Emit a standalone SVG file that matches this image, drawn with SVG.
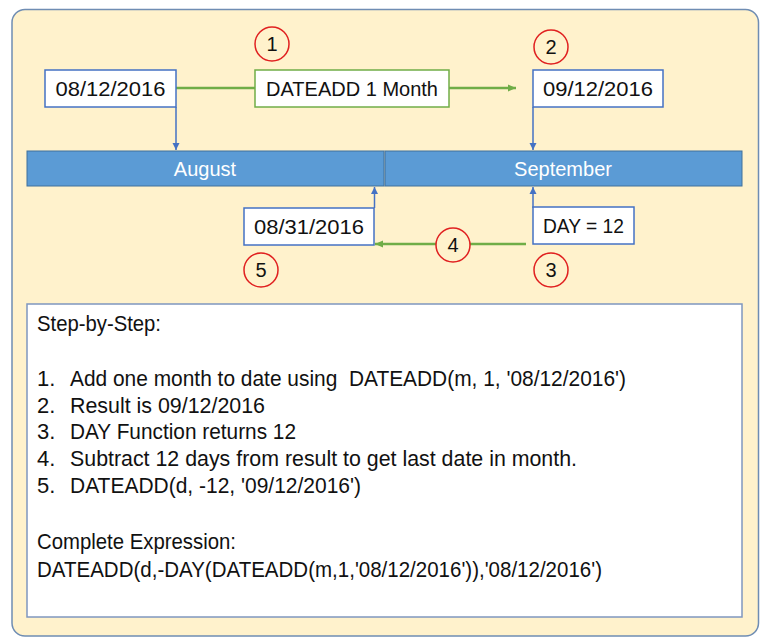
<svg xmlns="http://www.w3.org/2000/svg" width="768" height="642" viewBox="0 0 768 642">
<defs>
<style>
text{font-family:"Liberation Sans",Arial,sans-serif;fill:#111}
.box{fill:#fff;stroke:#4472C4;stroke-width:1.5}
.gbox{fill:#fff;stroke:#70AD47;stroke-width:1.5}
.lbl{font-size:21px;text-anchor:middle}
.month{fill:#5B9BD5;stroke:#41719C;stroke-width:1}
.mtxt{font-size:20px;fill:#fff;text-anchor:middle}
.num{fill:#FFF2CC;stroke:#E02020;stroke-width:1.5}
.ntxt{font-size:20px;text-anchor:middle}
.blue{stroke:#4472C4;stroke-width:1.5;fill:none}
.green{stroke:#70AD47;stroke-width:2.5;fill:none}
.step{font-size:22px}
</style>
<marker id="ab" markerWidth="8" markerHeight="8" refX="7" refY="4" orient="auto" markerUnits="userSpaceOnUse">
<path d="M0,0.5 L7,4 L0,7.5 Z" fill="#4472C4"/>
</marker>
<marker id="ag" markerWidth="9" markerHeight="8" refX="8" refY="4" orient="auto" markerUnits="userSpaceOnUse">
<path d="M0,0.5 L8,4 L0,7.5 Z" fill="#70AD47"/>
</marker>
</defs>
<rect width="768" height="642" fill="#fff"/>
<rect id="frame" x="12" y="9.5" width="746.5" height="626.5" rx="13" fill="#FFF2CC" stroke="#6F8DB3" stroke-width="1.5"/>

<g id="connectors">
<line class="green" x1="176" y1="88" x2="255" y2="88"/>
<line class="green" x1="449" y1="88" x2="516" y2="88" marker-end="url(#ag)"/>
<line class="blue" x1="176" y1="107" x2="176" y2="150" marker-end="url(#ab)"/>
<line class="blue" x1="533" y1="107" x2="533" y2="150" marker-end="url(#ab)"/>
<line class="blue" x1="533" y1="208" x2="533" y2="187" marker-end="url(#ab)"/>
<line class="blue" x1="374.5" y1="208" x2="374.5" y2="187" marker-end="url(#ab)"/>
<line class="green" x1="526" y1="244" x2="375" y2="244" marker-end="url(#ag)"/>
</g>

<g id="start-date"><rect class="box" x="45" y="70" width="131" height="37"/><text class="lbl" x="110.5" y="96" textLength="110" lengthAdjust="spacingAndGlyphs">08/12/2016</text></g>
<g id="dateadd"><rect class="gbox" x="255" y="70" width="194" height="37"/><text class="lbl" x="352" y="96" textLength="172" lengthAdjust="spacingAndGlyphs">DATEADD 1 Month</text></g>
<g id="result-date"><rect class="box" x="533" y="70" width="130" height="37"/><text class="lbl" x="598" y="96" textLength="110" lengthAdjust="spacingAndGlyphs">09/12/2016</text></g>

<g id="august"><rect class="month" x="27" y="151" width="357" height="35"/><text class="mtxt" x="205" y="175.5">August</text></g>
<g id="september"><rect class="month" x="385" y="151" width="357" height="35"/><text class="mtxt" x="563" y="175.5">September</text></g>

<g id="day"><rect class="box" x="533" y="207" width="101" height="37"/><text class="lbl" x="583.5" y="233" textLength="81" lengthAdjust="spacingAndGlyphs">DAY = 12</text></g>
<g id="end-date"><rect class="box" x="244" y="208" width="130" height="37"/><text class="lbl" x="309" y="234" textLength="110" lengthAdjust="spacingAndGlyphs">08/31/2016</text></g>

<g id="n1"><circle class="num" cx="272" cy="44" r="17"/><text class="ntxt" x="272" y="51">1</text></g>
<g id="n2"><circle class="num" cx="551" cy="47" r="17"/><text class="ntxt" x="551" y="54">2</text></g>
<g id="n3"><circle class="num" cx="551" cy="270" r="17"/><text class="ntxt" x="551" y="277">3</text></g>
<g id="n4"><circle class="num" cx="453" cy="245" r="17"/><text class="ntxt" x="453" y="252">4</text></g>
<g id="n5"><circle class="num" cx="261" cy="270" r="17"/><text class="ntxt" x="261" y="277">5</text></g>

<g id="steps">
<rect x="27" y="304" width="715" height="313" fill="#fff" stroke="#7F97BF" stroke-width="1.5"/>
<text class="step" x="37" y="331" textLength="124" lengthAdjust="spacingAndGlyphs">Step-by-Step:</text>
<text class="step" x="37" y="386">1.</text>
<text class="step" x="70" y="386" textLength="556" lengthAdjust="spacingAndGlyphs" xml:space="preserve">Add one month to date using  DATEADD(m, 1, '08/12/2016')</text>
<text class="step" x="37" y="413">2.</text>
<text class="step" x="70" y="413" textLength="195" lengthAdjust="spacingAndGlyphs">Result is 09/12/2016</text>
<text class="step" x="37" y="439">3.</text>
<text class="step" x="70" y="439" textLength="226" lengthAdjust="spacingAndGlyphs">DAY Function returns 12</text>
<text class="step" x="37" y="466">4.</text>
<text class="step" x="70" y="466" textLength="507" lengthAdjust="spacingAndGlyphs">Subtract 12 days from result to get last date in month.</text>
<text class="step" x="37" y="493">5.</text>
<text class="step" x="70" y="493" textLength="291" lengthAdjust="spacingAndGlyphs">DATEADD(d, -12, '09/12/2016')</text>
<text class="step" x="37" y="549" textLength="199" lengthAdjust="spacingAndGlyphs">Complete Expression:</text>
<text class="step" x="37" y="577" textLength="565" lengthAdjust="spacingAndGlyphs">DATEADD(d,-DAY(DATEADD(m,1,'08/12/2016')),'08/12/2016')</text>
</g>
</svg>
